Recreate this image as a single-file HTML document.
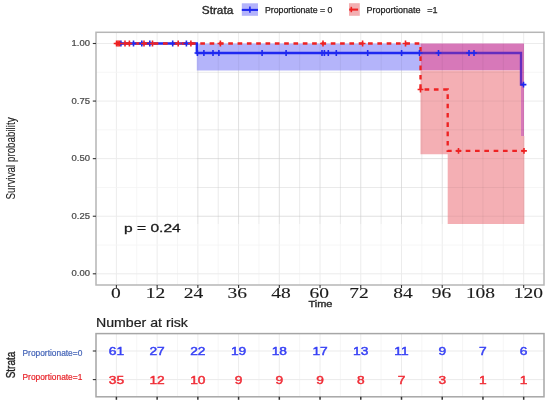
<!DOCTYPE html><html><head><meta charset="utf-8"><style>html,body{margin:0;padding:0;background:#fff;width:550px;height:405px;overflow:hidden}svg{display:block}text{font-family:"Liberation Sans",Arial,sans-serif}.serif{font-family:"Liberation Serif","Times New Roman",serif}</style></head><body>
<svg width="550" height="405" viewBox="0 0 550 405">
<rect width="550" height="405" fill="#fff"/>
<line x1="96.04" y1="32.3" x2="96.04" y2="285.0" stroke="#f4f4f4" stroke-width="0.8"/><line x1="116.40" y1="32.3" x2="116.40" y2="285.0" stroke="#ececec" stroke-width="1.0"/><line x1="136.76" y1="32.3" x2="136.76" y2="285.0" stroke="#f4f4f4" stroke-width="0.8"/><line x1="157.13" y1="32.3" x2="157.13" y2="285.0" stroke="#ececec" stroke-width="1.0"/><line x1="177.49" y1="32.3" x2="177.49" y2="285.0" stroke="#f4f4f4" stroke-width="0.8"/><line x1="197.86" y1="32.3" x2="197.86" y2="285.0" stroke="#ececec" stroke-width="1.0"/><line x1="218.22" y1="32.3" x2="218.22" y2="285.0" stroke="#f4f4f4" stroke-width="0.8"/><line x1="238.58" y1="32.3" x2="238.58" y2="285.0" stroke="#ececec" stroke-width="1.0"/><line x1="258.95" y1="32.3" x2="258.95" y2="285.0" stroke="#f4f4f4" stroke-width="0.8"/><line x1="279.31" y1="32.3" x2="279.31" y2="285.0" stroke="#ececec" stroke-width="1.0"/><line x1="299.68" y1="32.3" x2="299.68" y2="285.0" stroke="#f4f4f4" stroke-width="0.8"/><line x1="320.04" y1="32.3" x2="320.04" y2="285.0" stroke="#ececec" stroke-width="1.0"/><line x1="340.40" y1="32.3" x2="340.40" y2="285.0" stroke="#f4f4f4" stroke-width="0.8"/><line x1="360.77" y1="32.3" x2="360.77" y2="285.0" stroke="#ececec" stroke-width="1.0"/><line x1="381.13" y1="32.3" x2="381.13" y2="285.0" stroke="#f4f4f4" stroke-width="0.8"/><line x1="401.50" y1="32.3" x2="401.50" y2="285.0" stroke="#ececec" stroke-width="1.0"/><line x1="421.86" y1="32.3" x2="421.86" y2="285.0" stroke="#f4f4f4" stroke-width="0.8"/><line x1="442.22" y1="32.3" x2="442.22" y2="285.0" stroke="#ececec" stroke-width="1.0"/><line x1="462.59" y1="32.3" x2="462.59" y2="285.0" stroke="#f4f4f4" stroke-width="0.8"/><line x1="482.95" y1="32.3" x2="482.95" y2="285.0" stroke="#ececec" stroke-width="1.0"/><line x1="503.32" y1="32.3" x2="503.32" y2="285.0" stroke="#f4f4f4" stroke-width="0.8"/><line x1="523.68" y1="32.3" x2="523.68" y2="285.0" stroke="#ececec" stroke-width="1.0"/><line x1="96.0" y1="273.80" x2="544.0" y2="273.80" stroke="#ececec" stroke-width="1.0"/><line x1="96.0" y1="245.01" x2="544.0" y2="245.01" stroke="#f4f4f4" stroke-width="0.8"/><line x1="96.0" y1="216.23" x2="544.0" y2="216.23" stroke="#ececec" stroke-width="1.0"/><line x1="96.0" y1="187.44" x2="544.0" y2="187.44" stroke="#f4f4f4" stroke-width="0.8"/><line x1="96.0" y1="158.65" x2="544.0" y2="158.65" stroke="#ececec" stroke-width="1.0"/><line x1="96.0" y1="129.86" x2="544.0" y2="129.86" stroke="#f4f4f4" stroke-width="0.8"/><line x1="96.0" y1="101.07" x2="544.0" y2="101.07" stroke="#ececec" stroke-width="1.0"/><line x1="96.0" y1="72.29" x2="544.0" y2="72.29" stroke="#f4f4f4" stroke-width="0.8"/><line x1="96.0" y1="43.50" x2="544.0" y2="43.50" stroke="#ececec" stroke-width="1.0"/>
<path d="M196.8,43.5 H420.5 V70.5 H196.8 Z" fill="rgb(180,180,250)"/>
<path d="M420.5,43.5 H524.0 V135.9 H521.0 V70.5 H420.5 Z" fill="rgb(215,120,185)"/>
<path d="M420.5,70.5 H521.0 V135.9 H524.3 V224 H447.7 V154.2 H420.5 Z" fill="rgb(244,175,180)"/>
<line x1="197.86" y1="43.5" x2="197.86" y2="224" stroke="#000" stroke-opacity="0.05" stroke-width="1"/><line x1="218.22" y1="43.5" x2="218.22" y2="224" stroke="#000" stroke-opacity="0.05" stroke-width="1"/><line x1="238.58" y1="43.5" x2="238.58" y2="224" stroke="#000" stroke-opacity="0.05" stroke-width="1"/><line x1="258.95" y1="43.5" x2="258.95" y2="224" stroke="#000" stroke-opacity="0.05" stroke-width="1"/><line x1="279.31" y1="43.5" x2="279.31" y2="224" stroke="#000" stroke-opacity="0.05" stroke-width="1"/><line x1="299.68" y1="43.5" x2="299.68" y2="224" stroke="#000" stroke-opacity="0.05" stroke-width="1"/><line x1="320.04" y1="43.5" x2="320.04" y2="224" stroke="#000" stroke-opacity="0.05" stroke-width="1"/><line x1="340.40" y1="43.5" x2="340.40" y2="224" stroke="#000" stroke-opacity="0.05" stroke-width="1"/><line x1="360.77" y1="43.5" x2="360.77" y2="224" stroke="#000" stroke-opacity="0.05" stroke-width="1"/><line x1="381.13" y1="43.5" x2="381.13" y2="224" stroke="#000" stroke-opacity="0.05" stroke-width="1"/><line x1="401.50" y1="43.5" x2="401.50" y2="224" stroke="#000" stroke-opacity="0.05" stroke-width="1"/><line x1="421.86" y1="43.5" x2="421.86" y2="224" stroke="#000" stroke-opacity="0.05" stroke-width="1"/><line x1="442.22" y1="43.5" x2="442.22" y2="224" stroke="#000" stroke-opacity="0.05" stroke-width="1"/><line x1="462.59" y1="43.5" x2="462.59" y2="224" stroke="#000" stroke-opacity="0.05" stroke-width="1"/><line x1="482.95" y1="43.5" x2="482.95" y2="224" stroke="#000" stroke-opacity="0.05" stroke-width="1"/><line x1="503.32" y1="43.5" x2="503.32" y2="224" stroke="#000" stroke-opacity="0.05" stroke-width="1"/><line x1="523.68" y1="43.5" x2="523.68" y2="224" stroke="#000" stroke-opacity="0.05" stroke-width="1"/><line x1="196.8" y1="216.23" x2="524.3" y2="216.23" stroke="#000" stroke-opacity="0.05" stroke-width="1"/><line x1="196.8" y1="187.44" x2="524.3" y2="187.44" stroke="#000" stroke-opacity="0.05" stroke-width="1"/><line x1="196.8" y1="158.65" x2="524.3" y2="158.65" stroke="#000" stroke-opacity="0.05" stroke-width="1"/><line x1="196.8" y1="129.86" x2="524.3" y2="129.86" stroke="#000" stroke-opacity="0.05" stroke-width="1"/><line x1="196.8" y1="101.07" x2="524.3" y2="101.07" stroke="#000" stroke-opacity="0.05" stroke-width="1"/><line x1="196.8" y1="72.29" x2="524.3" y2="72.29" stroke="#000" stroke-opacity="0.05" stroke-width="1"/>
<path d="M116.4,43.5 H196.8 V53.0 H420.5" fill="none" stroke="rgb(30,40,240)" stroke-width="2.35"/>
<path d="M420.5,53.0 H521.0 V84.6 H524.0" fill="none" stroke="#642dbe" stroke-width="2.35"/>
<path d="M116.4,43.5 H420.5 V89.5 H447.7 V150.9 H524.0" fill="none" stroke="rgb(238,34,34)" stroke-width="2.35" stroke-dasharray="4.66,4.66"/>
<path d="M118.0,43.5H123.8M120.9,40.6V46.4" stroke="rgb(30,40,240)" stroke-width="1.6"/><path d="M130.6,43.5H136.4M133.5,40.6V46.4" stroke="rgb(30,40,240)" stroke-width="1.6"/><path d="M138.9,43.5H144.7M141.8,40.6V46.4" stroke="rgb(30,40,240)" stroke-width="1.6"/><path d="M146.9,43.5H152.7M149.8,40.6V46.4" stroke="rgb(30,40,240)" stroke-width="1.6"/><path d="M169.8,43.5H175.6M172.7,40.6V46.4" stroke="rgb(30,40,240)" stroke-width="1.6"/><path d="M183.5,43.5H189.3M186.4,40.6V46.4" stroke="rgb(30,40,240)" stroke-width="1.6"/><path d="M194.5,53.0H200.3M197.4,50.1V55.9" stroke="rgb(30,40,240)" stroke-width="1.6"/><path d="M201.0,53.0H206.8M203.9,50.1V55.9" stroke="rgb(30,40,240)" stroke-width="1.6"/><path d="M210.1,53.0H215.9M213.0,50.1V55.9" stroke="rgb(30,40,240)" stroke-width="1.6"/><path d="M216.0,53.0H221.8M218.9,50.1V55.9" stroke="rgb(30,40,240)" stroke-width="1.6"/><path d="M259.2,53.0H265.0M262.1,50.1V55.9" stroke="rgb(30,40,240)" stroke-width="1.6"/><path d="M283.2,53.0H289.0M286.1,50.1V55.9" stroke="rgb(30,40,240)" stroke-width="1.6"/><path d="M319.1,53.0H324.9M322.0,50.1V55.9" stroke="rgb(30,40,240)" stroke-width="1.6"/><path d="M321.5,53.0H327.3M324.4,50.1V55.9" stroke="rgb(30,40,240)" stroke-width="1.6"/><path d="M325.4,53.0H331.2M328.3,50.1V55.9" stroke="rgb(30,40,240)" stroke-width="1.6"/><path d="M333.4,53.0H339.2M336.3,50.1V55.9" stroke="rgb(30,40,240)" stroke-width="1.6"/><path d="M364.8,53.0H370.6M367.7,50.1V55.9" stroke="rgb(30,40,240)" stroke-width="1.6"/><path d="M398.7,53.0H404.5M401.6,50.1V55.9" stroke="rgb(30,40,240)" stroke-width="1.6"/><path d="M416.6,53.0H422.4M419.5,50.1V55.9" stroke="rgb(30,40,240)" stroke-width="1.6"/><path d="M435.6,53.0H441.4M438.5,50.1V55.9" stroke="rgb(30,40,240)" stroke-width="1.6"/><path d="M466.1,53.0H471.9M469.0,50.1V55.9" stroke="rgb(30,40,240)" stroke-width="1.6"/><path d="M471.1,53.0H476.9M474.0,50.1V55.9" stroke="rgb(30,40,240)" stroke-width="1.6"/><path d="M520.6,84.6H526.4M523.5,81.7V87.5" stroke="rgb(30,40,240)" stroke-width="1.6"/>
<path d="M113.7,43.5H119.5M116.6,40.6V46.4" stroke="rgb(238,34,34)" stroke-width="1.6"/><path d="M115.1,43.5H120.9M118.0,40.6V46.4" stroke="rgb(238,34,34)" stroke-width="1.6"/><path d="M116.5,43.5H122.3M119.4,40.6V46.4" stroke="rgb(238,34,34)" stroke-width="1.6"/><path d="M122.1,43.5H127.9M125.0,40.6V46.4" stroke="rgb(238,34,34)" stroke-width="1.6"/><path d="M126.5,43.5H132.3M129.4,40.6V46.4" stroke="rgb(238,34,34)" stroke-width="1.6"/><path d="M141.1,43.5H146.9M144.0,40.6V46.4" stroke="rgb(238,34,34)" stroke-width="1.6"/><path d="M149.6,43.5H155.4M152.5,40.6V46.4" stroke="rgb(238,34,34)" stroke-width="1.6"/><path d="M175.3,43.5H181.1M178.2,40.6V46.4" stroke="rgb(238,34,34)" stroke-width="1.6"/><path d="M188.0,43.5H193.8M190.9,40.6V46.4" stroke="rgb(238,34,34)" stroke-width="1.6"/><path d="M217.5,43.5H223.3M220.4,40.6V46.4" stroke="rgb(238,34,34)" stroke-width="1.6"/><path d="M320.1,43.5H325.9M323.0,40.6V46.4" stroke="rgb(238,34,34)" stroke-width="1.6"/><path d="M359.7,43.5H365.5M362.6,40.6V46.4" stroke="rgb(238,34,34)" stroke-width="1.6"/><path d="M402.6,43.5H408.4M405.5,40.6V46.4" stroke="rgb(238,34,34)" stroke-width="1.6"/><path d="M417.6,89.5H423.4M420.5,86.6V92.4" stroke="rgb(238,34,34)" stroke-width="1.6"/><path d="M455.6,150.9H461.4M458.5,148.0V153.8" stroke="rgb(238,34,34)" stroke-width="1.6"/><path d="M521.1,150.9H526.9M524.0,148.0V153.8" stroke="rgb(238,34,34)" stroke-width="1.6"/>
<rect x="96.0" y="32.3" width="448.0" height="252.7" fill="none" stroke="#b6b6b6" stroke-width="1.5"/>
<line x1="92.8" y1="43.50" x2="96.0" y2="43.50" stroke="#333" stroke-width="1.1"/>
<text x="90" y="46.00" font-size="8.6" fill="#4d4d4d" stroke="#4d4d4d" stroke-width="0.25" text-anchor="end" transform="translate(90 0) scale(1.1 1) translate(-90 0)">1.00</text>
<line x1="92.8" y1="101.07" x2="96.0" y2="101.07" stroke="#333" stroke-width="1.1"/>
<text x="90" y="103.57" font-size="8.6" fill="#4d4d4d" stroke="#4d4d4d" stroke-width="0.25" text-anchor="end" transform="translate(90 0) scale(1.1 1) translate(-90 0)">0.75</text>
<line x1="92.8" y1="158.65" x2="96.0" y2="158.65" stroke="#333" stroke-width="1.1"/>
<text x="90" y="161.15" font-size="8.6" fill="#4d4d4d" stroke="#4d4d4d" stroke-width="0.25" text-anchor="end" transform="translate(90 0) scale(1.1 1) translate(-90 0)">0.50</text>
<line x1="92.8" y1="216.23" x2="96.0" y2="216.23" stroke="#333" stroke-width="1.1"/>
<text x="90" y="218.73" font-size="8.6" fill="#4d4d4d" stroke="#4d4d4d" stroke-width="0.25" text-anchor="end" transform="translate(90 0) scale(1.1 1) translate(-90 0)">0.25</text>
<line x1="92.8" y1="273.80" x2="96.0" y2="273.80" stroke="#333" stroke-width="1.1"/>
<text x="90" y="276.30" font-size="8.6" fill="#4d4d4d" stroke="#4d4d4d" stroke-width="0.25" text-anchor="end" transform="translate(90 0) scale(1.1 1) translate(-90 0)">0.00</text>
<line x1="116.40" y1="285.0" x2="116.40" y2="288.0" stroke="#333" stroke-width="1.1"/>
<text class="serif" x="115.8" y="297.6" font-size="15" fill="#1a1a1a" stroke="#1a1a1a" stroke-width="0.12" text-anchor="middle" transform="translate(115.8 0) scale(1.3 1) translate(-115.8 0)">0</text>
<line x1="157.13" y1="285.0" x2="157.13" y2="288.0" stroke="#333" stroke-width="1.1"/>
<text class="serif" x="155.6" y="297.6" font-size="15" fill="#1a1a1a" stroke="#1a1a1a" stroke-width="0.12" text-anchor="middle" transform="translate(155.6 0) scale(1.3 1) translate(-155.6 0)">12</text>
<line x1="197.86" y1="285.0" x2="197.86" y2="288.0" stroke="#333" stroke-width="1.1"/>
<text class="serif" x="193.6" y="297.6" font-size="15" fill="#1a1a1a" stroke="#1a1a1a" stroke-width="0.12" text-anchor="middle" transform="translate(193.6 0) scale(1.3 1) translate(-193.6 0)">24</text>
<line x1="238.58" y1="285.0" x2="238.58" y2="288.0" stroke="#333" stroke-width="1.1"/>
<text class="serif" x="237.3" y="297.6" font-size="15" fill="#1a1a1a" stroke="#1a1a1a" stroke-width="0.12" text-anchor="middle" transform="translate(237.3 0) scale(1.3 1) translate(-237.3 0)">36</text>
<line x1="279.31" y1="285.0" x2="279.31" y2="288.0" stroke="#333" stroke-width="1.1"/>
<text class="serif" x="281" y="297.6" font-size="15" fill="#1a1a1a" stroke="#1a1a1a" stroke-width="0.12" text-anchor="middle" transform="translate(281 0) scale(1.3 1) translate(-281 0)">48</text>
<line x1="320.04" y1="285.0" x2="320.04" y2="288.0" stroke="#333" stroke-width="1.1"/>
<text class="serif" x="319.3" y="297.6" font-size="15" fill="#1a1a1a" stroke="#1a1a1a" stroke-width="0.12" text-anchor="middle" transform="translate(319.3 0) scale(1.3 1) translate(-319.3 0)">60</text>
<line x1="360.77" y1="285.0" x2="360.77" y2="288.0" stroke="#333" stroke-width="1.1"/>
<text class="serif" x="358.9" y="297.6" font-size="15" fill="#1a1a1a" stroke="#1a1a1a" stroke-width="0.12" text-anchor="middle" transform="translate(358.9 0) scale(1.3 1) translate(-358.9 0)">72</text>
<line x1="401.50" y1="285.0" x2="401.50" y2="288.0" stroke="#333" stroke-width="1.1"/>
<text class="serif" x="402.9" y="297.6" font-size="15" fill="#1a1a1a" stroke="#1a1a1a" stroke-width="0.12" text-anchor="middle" transform="translate(402.9 0) scale(1.3 1) translate(-402.9 0)">84</text>
<line x1="442.22" y1="285.0" x2="442.22" y2="288.0" stroke="#333" stroke-width="1.1"/>
<text class="serif" x="441.5" y="297.6" font-size="15" fill="#1a1a1a" stroke="#1a1a1a" stroke-width="0.12" text-anchor="middle" transform="translate(441.5 0) scale(1.3 1) translate(-441.5 0)">96</text>
<line x1="482.95" y1="285.0" x2="482.95" y2="288.0" stroke="#333" stroke-width="1.1"/>
<text class="serif" x="480.5" y="297.6" font-size="15" fill="#1a1a1a" stroke="#1a1a1a" stroke-width="0.12" text-anchor="middle" transform="translate(480.5 0) scale(1.3 1) translate(-480.5 0)">108</text>
<line x1="523.68" y1="285.0" x2="523.68" y2="288.0" stroke="#333" stroke-width="1.1"/>
<text class="serif" x="528.3" y="297.6" font-size="15" fill="#1a1a1a" stroke="#1a1a1a" stroke-width="0.12" text-anchor="middle" transform="translate(528.3 0) scale(1.3 1) translate(-528.3 0)">120</text>
<text x="320.4" y="306.7" font-size="9" fill="#2a2a2a" stroke="#2a2a2a" stroke-width="0.35" text-anchor="middle" transform="translate(320.4 0) scale(1.22 1) translate(-320.4 0)">Time</text>
<text x="0" y="0" font-size="9.8" fill="#222" stroke="#222" stroke-width="0.08" text-anchor="middle" transform="translate(15.4 158.5) rotate(-90) scale(1 1.25)">Survival probability</text>
<text x="124.1" y="232.5" font-size="10.8" fill="#1a1a1a" stroke="#1a1a1a" stroke-width="0.28" transform="translate(124.1 0) scale(1.44 1) translate(-124.1 0)">p = 0.24</text>
<text x="201.8" y="13.7" font-size="10" fill="#2a2a2a" stroke="#2a2a2a" stroke-width="0.35" transform="translate(201.8 0) scale(1.18 1) translate(-201.8 0)">Strata</text>
<rect x="241.8" y="3.3" width="16.2" height="12.5" fill="#b3b3fb"/>
<path d="M241.8,9.9H258" stroke="rgb(30,40,240)" stroke-width="2.1"/><path d="M249.9,6.6V12.8" stroke="rgb(30,40,240)" stroke-width="1.6"/>
<text x="265" y="13.3" font-size="8.75" fill="#222" stroke="#222" stroke-width="0.25">Proportionate = 0</text>
<rect x="349" y="3.2" width="10.8" height="12.6" fill="#f3aeb1"/>
<path d="M349.2,9.6H358.1" stroke="rgb(238,34,34)" stroke-width="2.1"/><path d="M351.3,6.8V12.2" stroke="rgb(238,34,34)" stroke-width="1.6"/>
<text x="366.5" y="13.3" font-size="9" fill="#222" stroke="#222" stroke-width="0.25">Proportionate</text>
<text x="427.2" y="13.3" font-size="9" fill="#222" stroke="#222" stroke-width="0.25">=1</text>
<text x="96" y="326.6" font-size="12" fill="#222" stroke="#222" stroke-width="0.2" transform="translate(96 0) scale(1.18 1) translate(-96 0)">Number at risk</text>
<line x1="96.04" y1="333.6" x2="96.04" y2="396.8" stroke="#f4f4f4" stroke-width="0.8"/><line x1="116.40" y1="333.6" x2="116.40" y2="396.8" stroke="#ececec" stroke-width="1.0"/><line x1="136.76" y1="333.6" x2="136.76" y2="396.8" stroke="#f4f4f4" stroke-width="0.8"/><line x1="157.13" y1="333.6" x2="157.13" y2="396.8" stroke="#ececec" stroke-width="1.0"/><line x1="177.49" y1="333.6" x2="177.49" y2="396.8" stroke="#f4f4f4" stroke-width="0.8"/><line x1="197.86" y1="333.6" x2="197.86" y2="396.8" stroke="#ececec" stroke-width="1.0"/><line x1="218.22" y1="333.6" x2="218.22" y2="396.8" stroke="#f4f4f4" stroke-width="0.8"/><line x1="238.58" y1="333.6" x2="238.58" y2="396.8" stroke="#ececec" stroke-width="1.0"/><line x1="258.95" y1="333.6" x2="258.95" y2="396.8" stroke="#f4f4f4" stroke-width="0.8"/><line x1="279.31" y1="333.6" x2="279.31" y2="396.8" stroke="#ececec" stroke-width="1.0"/><line x1="299.68" y1="333.6" x2="299.68" y2="396.8" stroke="#f4f4f4" stroke-width="0.8"/><line x1="320.04" y1="333.6" x2="320.04" y2="396.8" stroke="#ececec" stroke-width="1.0"/><line x1="340.40" y1="333.6" x2="340.40" y2="396.8" stroke="#f4f4f4" stroke-width="0.8"/><line x1="360.77" y1="333.6" x2="360.77" y2="396.8" stroke="#ececec" stroke-width="1.0"/><line x1="381.13" y1="333.6" x2="381.13" y2="396.8" stroke="#f4f4f4" stroke-width="0.8"/><line x1="401.50" y1="333.6" x2="401.50" y2="396.8" stroke="#ececec" stroke-width="1.0"/><line x1="421.86" y1="333.6" x2="421.86" y2="396.8" stroke="#f4f4f4" stroke-width="0.8"/><line x1="442.22" y1="333.6" x2="442.22" y2="396.8" stroke="#ececec" stroke-width="1.0"/><line x1="462.59" y1="333.6" x2="462.59" y2="396.8" stroke="#f4f4f4" stroke-width="0.8"/><line x1="482.95" y1="333.6" x2="482.95" y2="396.8" stroke="#ececec" stroke-width="1.0"/><line x1="503.32" y1="333.6" x2="503.32" y2="396.8" stroke="#f4f4f4" stroke-width="0.8"/><line x1="523.68" y1="333.6" x2="523.68" y2="396.8" stroke="#ececec" stroke-width="1.0"/><line x1="96.0" y1="351.0" x2="544.0" y2="351.0" stroke="#ebebeb" stroke-width="1"/><line x1="96.0" y1="379.6" x2="544.0" y2="379.6" stroke="#ebebeb" stroke-width="1"/>
<rect x="96.0" y="333.6" width="448.0" height="63.19999999999999" fill="none" stroke="#a6a6a6" stroke-width="1.5"/>
<line x1="92.8" y1="351.0" x2="96.0" y2="351.0" stroke="#333" stroke-width="1.1"/>
<line x1="92.8" y1="379.6" x2="96.0" y2="379.6" stroke="#333" stroke-width="1.1"/>
<line x1="116.40" y1="396.8" x2="116.40" y2="399.8" stroke="#333" stroke-width="1.5"/>
<line x1="157.13" y1="396.8" x2="157.13" y2="399.8" stroke="#333" stroke-width="1.5"/>
<line x1="197.86" y1="396.8" x2="197.86" y2="399.8" stroke="#333" stroke-width="1.5"/>
<line x1="238.58" y1="396.8" x2="238.58" y2="399.8" stroke="#333" stroke-width="1.5"/>
<line x1="279.31" y1="396.8" x2="279.31" y2="399.8" stroke="#333" stroke-width="1.5"/>
<line x1="320.04" y1="396.8" x2="320.04" y2="399.8" stroke="#333" stroke-width="1.5"/>
<line x1="360.77" y1="396.8" x2="360.77" y2="399.8" stroke="#333" stroke-width="1.5"/>
<line x1="401.50" y1="396.8" x2="401.50" y2="399.8" stroke="#333" stroke-width="1.5"/>
<line x1="442.22" y1="396.8" x2="442.22" y2="399.8" stroke="#333" stroke-width="1.5"/>
<line x1="482.95" y1="396.8" x2="482.95" y2="399.8" stroke="#333" stroke-width="1.5"/>
<line x1="523.68" y1="396.8" x2="523.68" y2="399.8" stroke="#333" stroke-width="1.5"/>
<text x="116.40" y="355" font-size="11" fill="rgb(55,65,245)" stroke="rgb(55,65,245)" stroke-width="0.45" text-anchor="middle" transform="translate(116.40 0) scale(1.25 1) translate(-116.40 0)">61</text>
<text x="116.40" y="383.8" font-size="11" fill="rgb(240,45,55)" stroke="rgb(240,45,55)" stroke-width="0.45" text-anchor="middle" transform="translate(116.40 0) scale(1.25 1) translate(-116.40 0)">35</text>
<text x="157.13" y="355" font-size="11" fill="rgb(55,65,245)" stroke="rgb(55,65,245)" stroke-width="0.45" text-anchor="middle" transform="translate(157.13 0) scale(1.25 1) translate(-157.13 0)">27</text>
<text x="157.13" y="383.8" font-size="11" fill="rgb(240,45,55)" stroke="rgb(240,45,55)" stroke-width="0.45" text-anchor="middle" transform="translate(157.13 0) scale(1.25 1) translate(-157.13 0)">12</text>
<text x="197.86" y="355" font-size="11" fill="rgb(55,65,245)" stroke="rgb(55,65,245)" stroke-width="0.45" text-anchor="middle" transform="translate(197.86 0) scale(1.25 1) translate(-197.86 0)">22</text>
<text x="197.86" y="383.8" font-size="11" fill="rgb(240,45,55)" stroke="rgb(240,45,55)" stroke-width="0.45" text-anchor="middle" transform="translate(197.86 0) scale(1.25 1) translate(-197.86 0)">10</text>
<text x="238.58" y="355" font-size="11" fill="rgb(55,65,245)" stroke="rgb(55,65,245)" stroke-width="0.45" text-anchor="middle" transform="translate(238.58 0) scale(1.25 1) translate(-238.58 0)">19</text>
<text x="238.58" y="383.8" font-size="11" fill="rgb(240,45,55)" stroke="rgb(240,45,55)" stroke-width="0.45" text-anchor="middle" transform="translate(238.58 0) scale(1.25 1) translate(-238.58 0)">9</text>
<text x="279.31" y="355" font-size="11" fill="rgb(55,65,245)" stroke="rgb(55,65,245)" stroke-width="0.45" text-anchor="middle" transform="translate(279.31 0) scale(1.25 1) translate(-279.31 0)">18</text>
<text x="279.31" y="383.8" font-size="11" fill="rgb(240,45,55)" stroke="rgb(240,45,55)" stroke-width="0.45" text-anchor="middle" transform="translate(279.31 0) scale(1.25 1) translate(-279.31 0)">9</text>
<text x="320.04" y="355" font-size="11" fill="rgb(55,65,245)" stroke="rgb(55,65,245)" stroke-width="0.45" text-anchor="middle" transform="translate(320.04 0) scale(1.25 1) translate(-320.04 0)">17</text>
<text x="320.04" y="383.8" font-size="11" fill="rgb(240,45,55)" stroke="rgb(240,45,55)" stroke-width="0.45" text-anchor="middle" transform="translate(320.04 0) scale(1.25 1) translate(-320.04 0)">9</text>
<text x="360.77" y="355" font-size="11" fill="rgb(55,65,245)" stroke="rgb(55,65,245)" stroke-width="0.45" text-anchor="middle" transform="translate(360.77 0) scale(1.25 1) translate(-360.77 0)">13</text>
<text x="360.77" y="383.8" font-size="11" fill="rgb(240,45,55)" stroke="rgb(240,45,55)" stroke-width="0.45" text-anchor="middle" transform="translate(360.77 0) scale(1.25 1) translate(-360.77 0)">8</text>
<text x="401.50" y="355" font-size="11" fill="rgb(55,65,245)" stroke="rgb(55,65,245)" stroke-width="0.45" text-anchor="middle" transform="translate(401.50 0) scale(1.25 1) translate(-401.50 0)">11</text>
<text x="401.50" y="383.8" font-size="11" fill="rgb(240,45,55)" stroke="rgb(240,45,55)" stroke-width="0.45" text-anchor="middle" transform="translate(401.50 0) scale(1.25 1) translate(-401.50 0)">7</text>
<text x="442.22" y="355" font-size="11" fill="rgb(55,65,245)" stroke="rgb(55,65,245)" stroke-width="0.45" text-anchor="middle" transform="translate(442.22 0) scale(1.25 1) translate(-442.22 0)">9</text>
<text x="442.22" y="383.8" font-size="11" fill="rgb(240,45,55)" stroke="rgb(240,45,55)" stroke-width="0.45" text-anchor="middle" transform="translate(442.22 0) scale(1.25 1) translate(-442.22 0)">3</text>
<text x="482.95" y="355" font-size="11" fill="rgb(55,65,245)" stroke="rgb(55,65,245)" stroke-width="0.45" text-anchor="middle" transform="translate(482.95 0) scale(1.25 1) translate(-482.95 0)">7</text>
<text x="482.95" y="383.8" font-size="11" fill="rgb(240,45,55)" stroke="rgb(240,45,55)" stroke-width="0.45" text-anchor="middle" transform="translate(482.95 0) scale(1.25 1) translate(-482.95 0)">1</text>
<text x="523.68" y="355" font-size="11" fill="rgb(55,65,245)" stroke="rgb(55,65,245)" stroke-width="0.45" text-anchor="middle" transform="translate(523.68 0) scale(1.25 1) translate(-523.68 0)">6</text>
<text x="523.68" y="383.8" font-size="11" fill="rgb(240,45,55)" stroke="rgb(240,45,55)" stroke-width="0.45" text-anchor="middle" transform="translate(523.68 0) scale(1.25 1) translate(-523.68 0)">1</text>
<text x="0" y="0" font-size="10" fill="#222" stroke="#222" stroke-width="0.3" text-anchor="middle" transform="translate(14.5 365) rotate(-90) scale(1 1.25)">Strata</text>
<text x="22.5" y="356.3" font-size="8.4" fill="#4565b8" stroke="#4565b8" stroke-width="0.2">Proportionate=0</text>
<text x="22.5" y="379.6" font-size="8.4" fill="#e8252b" stroke="#e8252b" stroke-width="0.2">Proportionate=1</text>
</svg></body></html>
